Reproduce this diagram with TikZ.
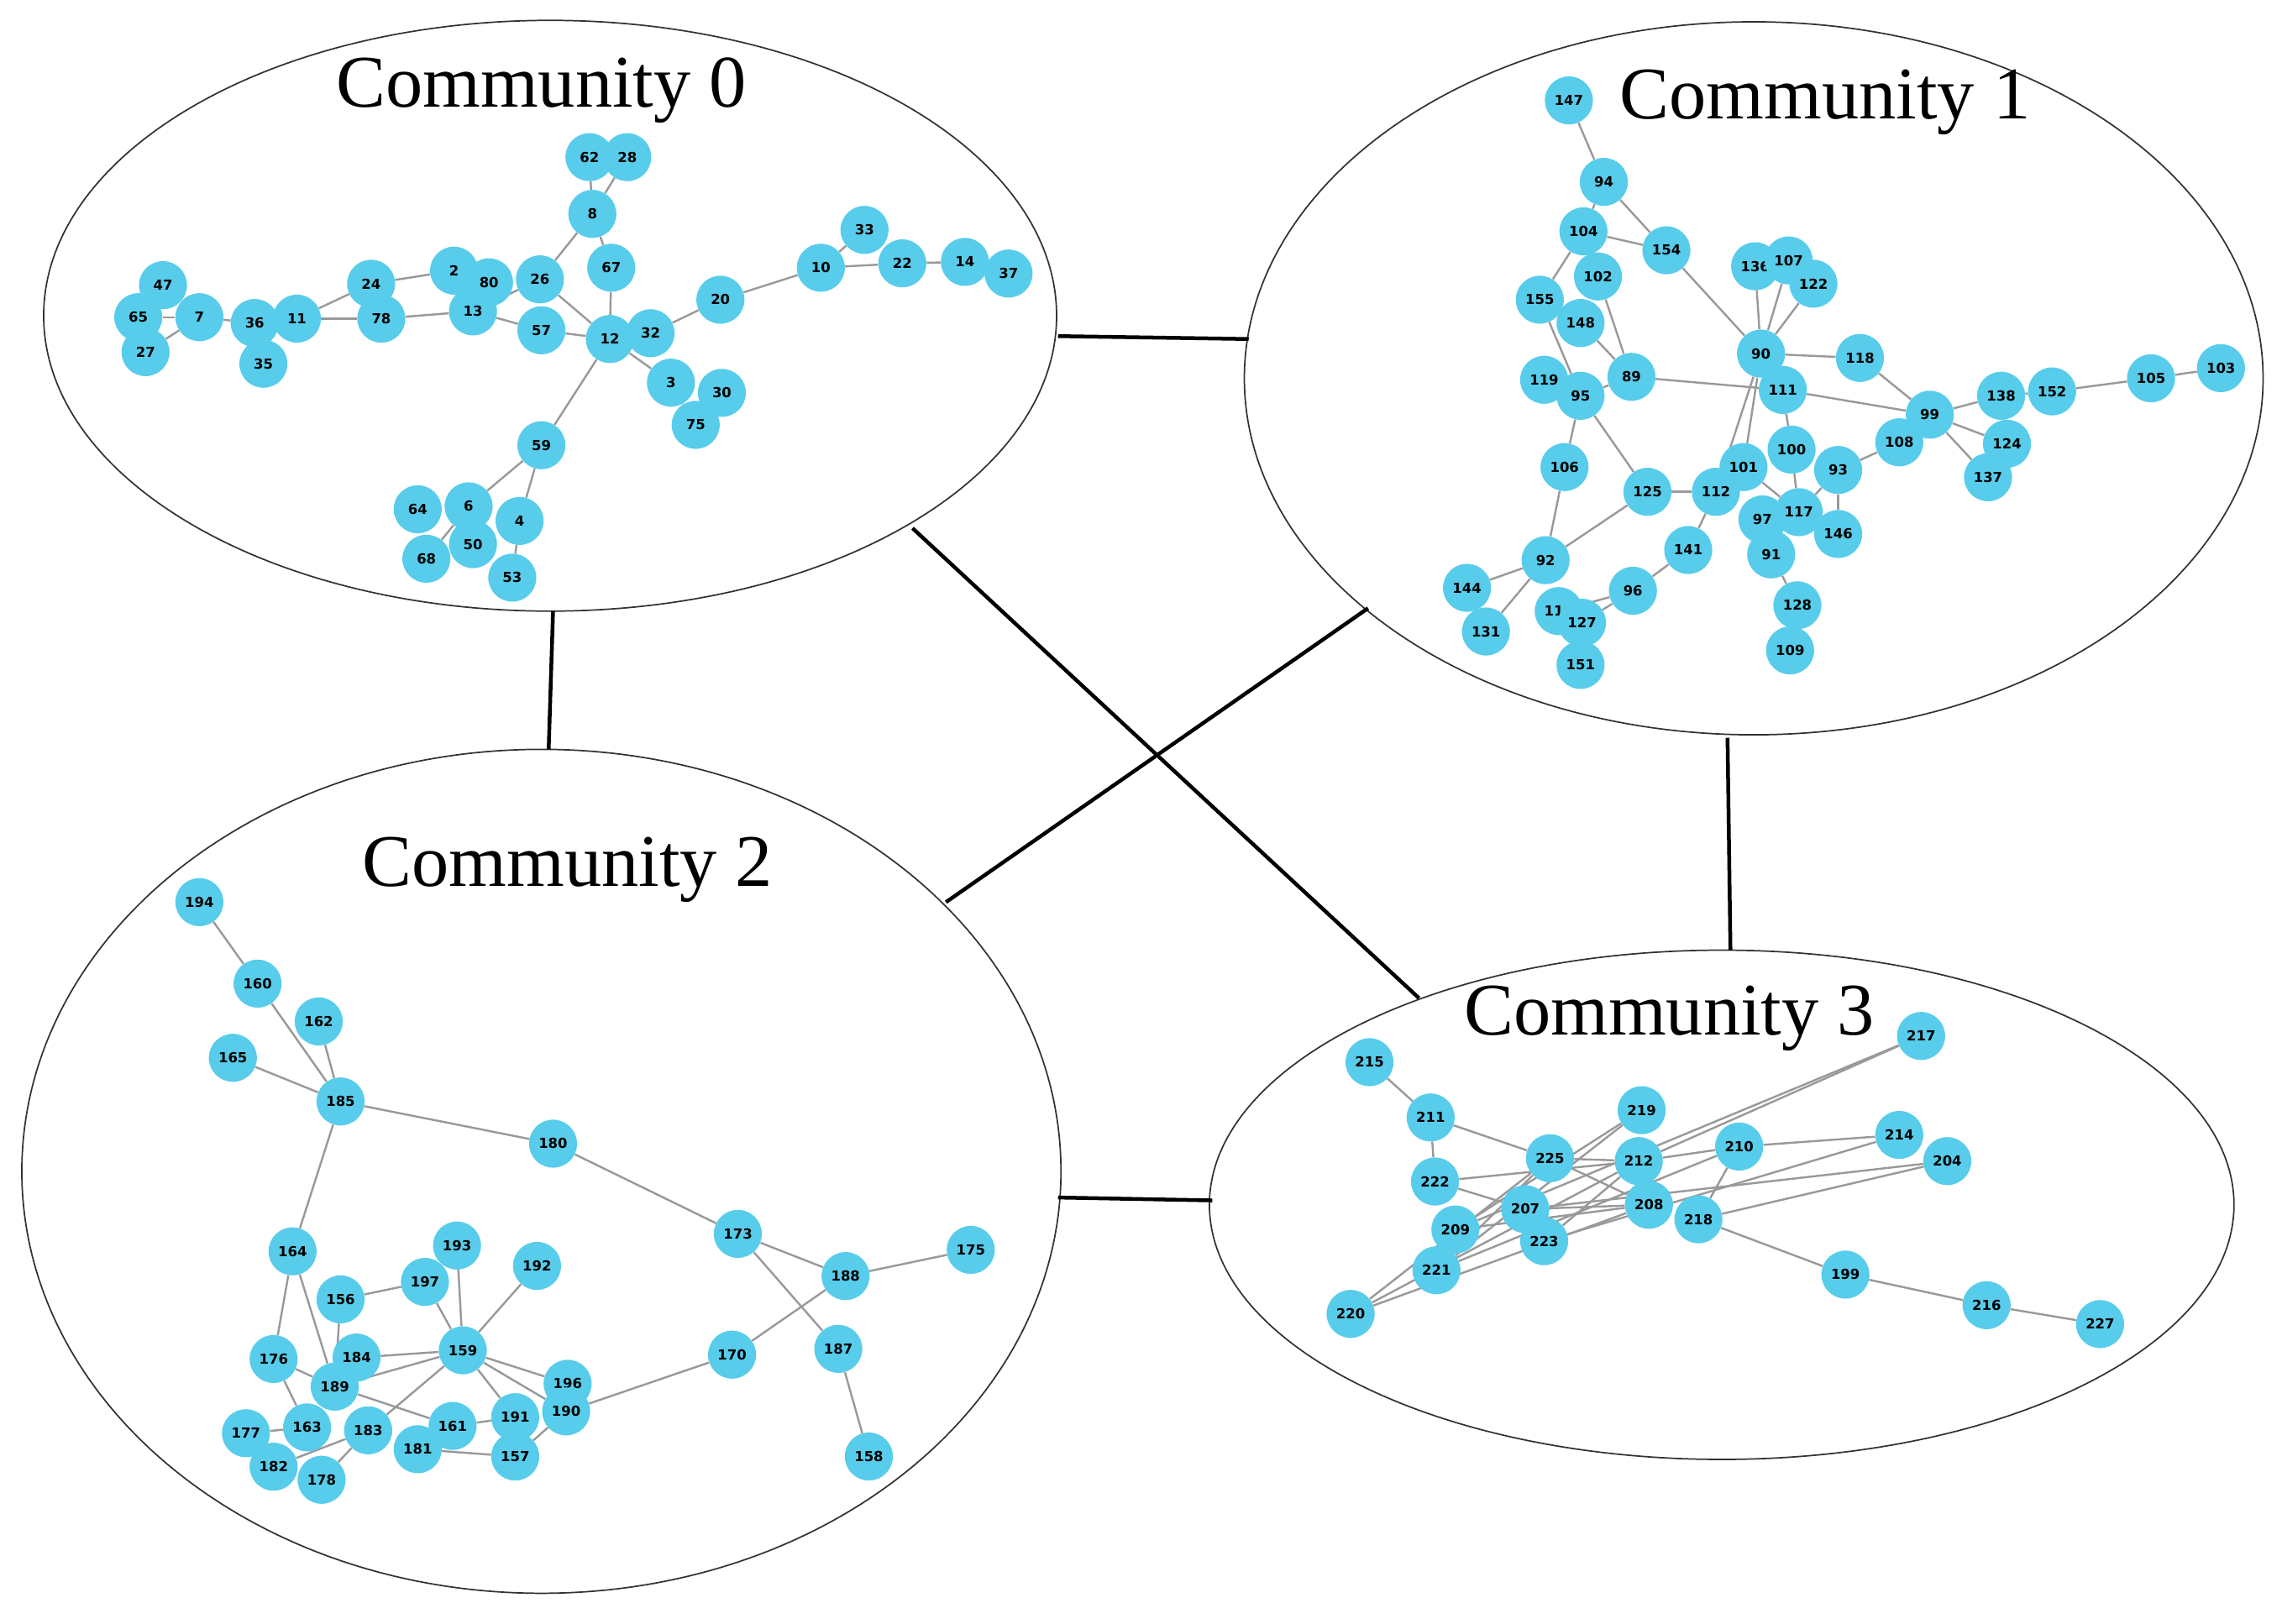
\documentclass[tikz,border=0pt]{standalone}
\usepackage{fontspec}
\setmainfont{Liberation Serif}
\newfontfamily\lblfont{DejaVu Sans}
\usetikzlibrary{backgrounds}
\definecolor{nodeblue}{RGB}{88,204,235}
\begin{document}
\begin{tikzpicture}[x=1pt,y=-1pt,
  nd/.style={circle,fill=nodeblue,minimum size=33pt,inner sep=0pt,font=\lblfont\bfseries\fontsize{9.5}{10}\selectfont},
  ed/.style={draw=gray!80,line width=1.4pt},
  comm/.style={draw=black!80,line width=1pt},
  link/.style={draw=black,line width=2.6pt},
  ttl/.style={font=\fontsize{51}{55}\selectfont}]
\useasboundingbox (0,0) rectangle (1568,1116);
% ellipses
\draw[comm] (378,217) ellipse [x radius=348,y radius=203];
\draw[comm] (1205,260) ellipse [x radius=350,y radius=245];
\draw[comm] (372,805) ellipse [x radius=357,y radius=290];
\draw[comm] (1183,828) ellipse [x radius=352,y radius=175];
\node[ttl] (t0) at (372,62) {Community 0};
\node[ttl] (t1) at (1254,70) {Community 1};
\node[ttl] (t2) at (390,598) {Community 2};
\node[ttl] (t3) at (1147,700) {Community 3};
% inter-community links
\coordinate (a0) at (727,231); \coordinate (a1) at (858,233);
\coordinate (b0) at (380,420); \coordinate (b2) at (377,515);
\coordinate (c0) at (627,363); \coordinate (c3) at (975,686);
\coordinate (d1) at (940,418); \coordinate (d2) at (650,620);
\coordinate (e1) at (1187,507); \coordinate (e3) at (1189,653);
\coordinate (f2) at (727,823); \coordinate (f3) at (833,825);
\draw[link] (a0)--(a1); \draw[link] (b0)--(b2); \draw[link] (c0)--(c3);
\draw[link] (d1)--(d2); \draw[link] (e1)--(e3); \draw[link] (f2)--(f3);
% Community 0
\foreach \n/\x/\y in {47/112/196,65/95/218,7/137/218,27/100/242,36/175/222,11/204/219,35/181/250,24/255/195,78/262/219,2/312/186,80/336/194,13/325/214,26/371/192,57/372/227,8/407/147,62/405/108,28/431/108,67/420/184,12/419/233,32/447/229,20/495/206,10/564/184,33/594/158,22/620/181,14/663/180,37/693/188,3/461/263,30/496/270,75/478/292,59/372/306,64/287/350,6/322/348,4/357/358,68/293/384,50/325/374,53/352/397}
  {\node[nd] (n\n) at (\x,\y) {\n};}
% Community 1
\foreach \n/\x/\y in {147/1078/69,94/1102/125,104/1088/159,154/1145/172,102/1098/190,155/1058/206,148/1086/222,89/1121/259,119/1061/261,95/1086/272,136/1206/183,107/1229/179,122/1246/195,90/1210/243,118/1278/246,111/1225/268,99/1326/285,138/1375/272,152/1410/269,105/1478/260,103/1526/253,108/1305/304,124/1379/305,137/1366/328,100/1231/309,101/1198/321,93/1263/323,112/1179/338,125/1132/338,106/1075/321,97/1211/357,117/1236/352,146/1263/367,91/1217/381,141/1160/378,92/1062/385,144/1008/404,131/1021/434,115/1071/420,127/1087/428,96/1122/406,151/1086/457,128/1235/416,109/1230/447}
  {\node[nd] (n\n) at (\x,\y) {\n};}
% Community 2
\foreach \n/\x/\y in {194/137/620,160/177/676,162/219/702,165/160/727,185/234/757,180/380/786,173/507/848,188/581/877,175/667/859,187/576/927,158/597/1001,170/503/931,164/201/860,193/314/856,192/369/870,197/292/881,156/234/893,176/188/934,184/245/933,159/318/928,196/390/951,189/230/953,190/389/970,191/354/974,161/311/980,177/169/985,163/211/981,183/253/983,181/287/996,157/354/1001,182/188/1008,178/221/1017}
  {\node[nd] (n\n) at (\x,\y) {\n};}
% Community 3
\foreach \n/\x/\y in {215/941/730,211/983/768,222/986/812,225/1065/796,219/1128/763,212/1126/798,210/1195/788,214/1305/780,204/1338/798,207/1048/831,208/1133/828,218/1167/838,209/1000/845,223/1061/853,221/987/873,220/928/903,199/1268/876,216/1365/897,227/1443/910,217/1320/712}
  {\node[nd] (n\n) at (\x,\y) {\n};}
\begin{pgfonlayer}{background}
\foreach \a/\b in {47/65,65/7,27/7,7/36,36/11,36/35,11/24,11/78,24/2,78/13,13/57,26/13,26/8,8/62,8/28,8/67,67/12,26/12,57/12,12/32,32/20,20/10,10/33,10/22,22/14,12/3,3/75,12/59,59/6,59/4,6/68,4/53,
 147/94,94/104,94/154,104/154,104/155,155/95,102/89,148/89,89/95,89/111,154/90,90/136,90/107,90/122,90/118,118/99,111/99,99/138,99/124,99/137,138/152,152/105,105/103,111/100,90/101,90/112,93/108,93/146,93/117,100/117,101/117,95/106,95/125,106/92,125/92,125/112,112/101,112/141,141/96,96/127,96/115,92/144,92/131,91/128,128/109,97/91,
 194/160,160/185,162/185,165/185,185/180,180/173,185/164,173/188,188/175,173/187,187/158,188/170,170/190,164/176,164/189,156/197,197/159,193/159,192/159,156/189,184/159,189/159,183/159,159/196,159/190,159/191,176/189,176/163,189/161,163/177,161/191,181/157,190/157,182/183,178/183,
 215/211,211/225,211/222,222/212,222/207,225/212,225/208,225/221,219/209,219/221,212/210,212/223,210/214,210/218,210/221,217/212,217/209,214/223,204/207,204/218,208/207,208/209,218/199,199/216,216/227,220/212,220/208,220/225}
  {\draw[ed] (n\a)--(n\b);}
\end{pgfonlayer}
\end{tikzpicture}
\end{document}
